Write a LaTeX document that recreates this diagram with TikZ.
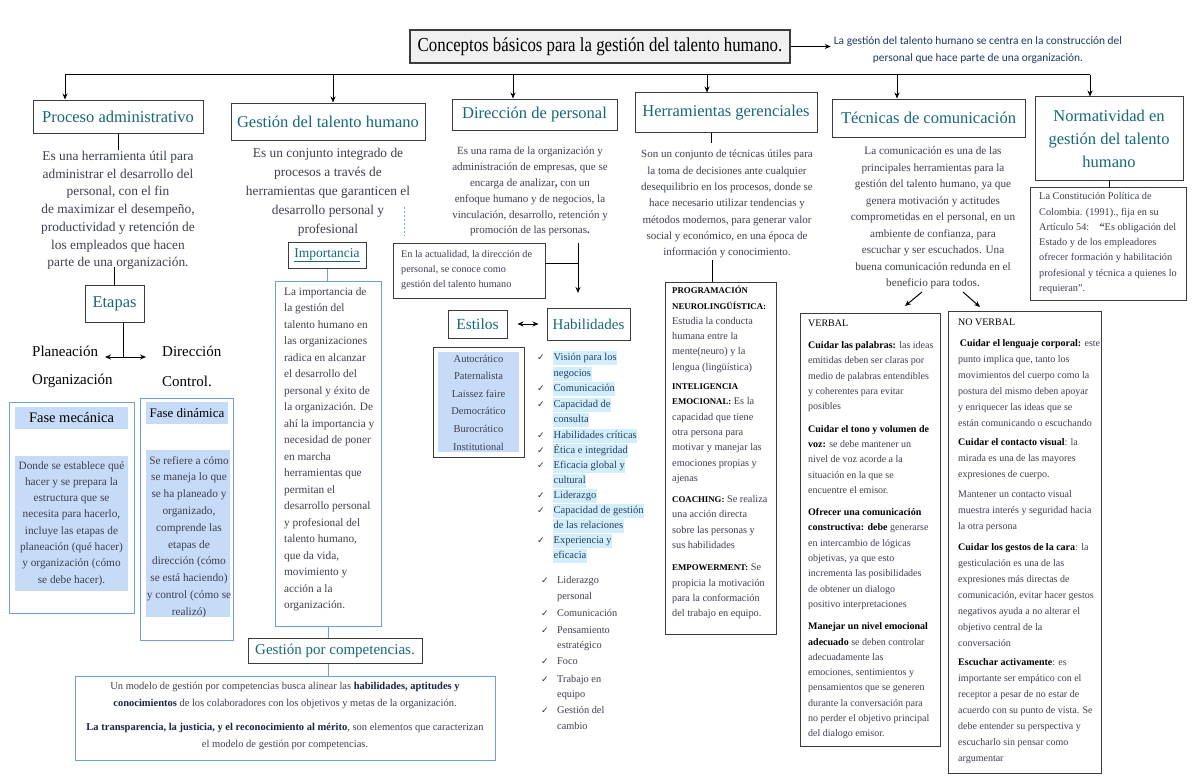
\documentclass[tikz,border=0pt]{standalone}
\usepackage{fontspec}
\setmainfont{Liberation Serif}
\newfontfamily\condfont[FakeStretch=0.85]{Liberation Serif}
\newfontfamily\calib{Carlito}
\newfontfamily\djv{DejaVu Sans}
\usetikzlibrary{arrows.meta}
\definecolor{tealh}{RGB}{22,104,120}
\definecolor{bodyg}{RGB}{62,64,78}
\definecolor{lbline}{RGB}{110,160,220}
\definecolor{lbfill}{RGB}{197,219,248}
\definecolor{hlfill}{RGB}{208,238,252}
\definecolor{navyt}{RGB}{30,55,100}
\definecolor{habt}{RGB}{45,60,100}
\definecolor{navyb}{RGB}{25,35,70}
\definecolor{boxline}{RGB}{60,60,60}
\newcommand\myfs[2]{\fontsize{#1}{#2}\selectfont}
\newcommand\smb[1]{{\fontsize{8.8}{15.3}\selectfont\bfseries\color{black}#1}}
\newcommand\bk[1]{\textbf{\color{black}#1}}
\tikzset{
  box/.style={draw=boxline, line width=1pt, inner sep=0pt},
  hdr/.style={box, text=tealh, font=\myfs{16.5}{20}},
  bbox/.style={draw=lbline, line width=1pt, inner sep=0pt},
  body/.style={inner sep=0pt, text=bodyg, align=center},
  lbody/.style={inner sep=0pt, text=bodyg, align=left, anchor=north west},
  ln/.style={line width=1pt, draw=black},
  bln/.style={line width=1pt, draw=lbline},
  arr/.style={line width=1pt, -{Stealth[length=6pt,width=5pt]}},
  darr/.style={line width=1pt, {Stealth[length=6pt,width=5pt]}-{Stealth[length=6pt,width=5pt]}},
  hl/.style={anchor=west, fill=hlfill, inner xsep=0.5pt, inner ysep=2pt, text height=7.5pt, text depth=2.5pt, font=\myfs{10.5}{12}, text=habt},
  ltwo/.style={anchor=west, inner sep=0pt, text height=7.5pt, text depth=2.5pt, font=\myfs{10.3}{12}, text=bodyg},
  chk/.style={inner sep=0pt, font=\djv\myfs{9}{10}, text=black!80},
}
\begin{document}
\begin{tikzpicture}[x=1pt,y=-1pt]
\fill[white] (0,0) rectangle (1200,776);
\useasboundingbox (0,0) rectangle (1200,776);

% title
\node[draw=boxline, line width=1.2pt, fill=black!6, minimum width=380pt, minimum height=33pt, inner sep=0pt, font=\condfont\myfs{19.8}{22}] (title) at (600,46.5) {Conceptos básicos para la gestión del talento humano.};
\node[font=\calib\myfs{11.4}{17}, text=navyt, align=center, inner sep=0pt] (trtxt) at (978,50.5) {La gestión del talento humano se centra en la construcción del\\personal que hace parte de una organización.};
\draw[arr] (title.east) -- ([xshift=-3pt]title.east -| trtxt.west);

% headers
\node[hdr, minimum width=170pt, minimum height=33pt] (proc) at (118,116.5) {Proceso administrativo};
\node[hdr, minimum width=194pt, minimum height=37pt] (gth) at (328,121.5) {Gestión del talento humano};
\node[hdr, minimum width=165pt, minimum height=31pt] (dir) at (534.5,114.5) {Dirección de personal};
\node[hdr, minimum width=182pt, minimum height=39pt] (herr) at (726,112.5) {Herramientas gerenciales};
\node[hdr, minimum width=193pt, minimum height=38pt] (tec) at (928.5,118) {Técnicas de comunicación};
\node[hdr, minimum width=148pt, minimum height=83pt, align=center, font=\myfs{16.5}{23}] (norm) at (1109,138.5) {Normatividad en\\gestión del talento\\humano};

% bar and drops
\coordinate (b1) at (65,75);
\coordinate (b2) at (333,75);
\coordinate (b3) at (513,75);
\coordinate (b4) at (707,75);
\coordinate (b5) at (897,75);
\coordinate (b6) at (1090,75);
\draw[ln] (b1) -- (b6);
\draw[arr] (b1) -- (b1 |- proc.north);
\draw[arr] (b2) -- (b2 |- gth.north);
\draw[arr] (b3) -- (b3 |- dir.north);
\draw[arr] (b4) -- (b4 |- herr.north);
\draw[arr] (b5) -- (b5 |- tec.north);
\draw[arr] (b6) -- (b6 |- norm.north);

% ---- column 1
\node[body, anchor=north, font=\myfs{13.4}{17.7}] (proctxt) at (118,151) {Es una herramienta útil para\\administrar el desarrollo del\\personal, con el fin\\de maximizar el desempeño,\\productividad y retención de\\los empleados que hacen\\parte de una organización.};
\draw[ln] (proc.south) -- ++(0,16);
\node[hdr, minimum width=59pt, minimum height=37pt] (etapas) at (114.5,303.5) {Etapas};
\draw[ln] (etapas.north) -- ++(0,-18);
\coordinate (ej) at (123,357);
\coordinate (dl) at (105,357);
\coordinate (dr) at (146,357);
\draw[ln] (ej |- etapas.south) -- (ej);
\draw[darr] (dl) -- (dr);
\node[anchor=west, inner sep=0pt, font=\myfs{15}{18}] (plan) at (32,351) {Planeación};
\node[anchor=west, inner sep=0pt, font=\myfs{15}{18}] (orga) at (32,381) {Organización};
\node[anchor=west, inner sep=0pt, font=\myfs{15}{18}] (dirc) at (162,351) {Dirección};
\node[anchor=west, inner sep=0pt, font=\myfs{15}{18}] (ctrl) at (162,381) {Control.};

\node[bbox, minimum width=125pt, minimum height=211pt] (fm) at (71.5,507.5) {};
\node[fill=lbfill, minimum width=113pt, minimum height=22pt, inner sep=0pt, font=\myfs{14.5}{17}] (fmh) at (71.5,417.5) {Fase mecánica};
\node[fill=lbfill, minimum width=113pt, minimum height=135pt, inner sep=0pt] (fmb) at (71.5,523.5) {};
\node[body, anchor=north, font=\myfs{11.3}{16.3}] (fmt) at (71.5,461) {Donde se establece qué\\hacer y se prepara la\\estructura que se\\necesita para hacerlo,\\incluye las etapas de\\planeación (qué hacer)\\y organización (cómo\\se debe hacer).};

\node[bbox, minimum width=93pt, minimum height=242pt] (fd) at (186.5,519) {};
\node[fill=lbfill, minimum width=82pt, minimum height=22pt, inner sep=0pt, font=\myfs{13}{16}] (fdh) at (187,413) {Fase dinámica};
\node[fill=lbfill, minimum width=84pt, minimum height=167pt, inner sep=0pt] (fdb) at (188,533.5) {};
\node[body, anchor=north, font=\myfs{11.3}{16.8}] (fdt) at (189,456) {Se refiere a cómo\\se maneja lo que\\se ha planeado y\\organizado,\\comprende las\\etapas de\\dirección (cómo\\se está haciendo)\\y control (cómo se\\realizó)};

% ---- column 2
\node[body, anchor=north, font=\myfs{13.4}{19}] (gthtxt) at (328,148) {Es un conjunto integrado de\\procesos a través de\\herramientas que garanticen el\\desarrollo personal y\\profesional};
\coordinate (ds1) at (404,207);
\coordinate (ds2) at (404,236);
\draw[lbline, line width=0.8pt, dash pattern=on 2pt off 2pt] (ds1) -- (ds2);
\node[box, minimum width=78pt, minimum height=26pt, text=tealh, font=\myfs{13.5}{16}] (imp) at (327,255) {\underline{Importancia}};
\node[bbox, minimum width=106pt, minimum height=345pt] (impbox) at (328,453.5) {};
\draw[bln] (imp.south) -- (imp.south |- impbox.north);
\node[lbody, font=\myfs{11.3}{16.5}] (imptxt) at (284,287) {La importancia de\\la gestión del\\talento humano en\\las organizaciones\\radica en alcanzar\\el desarrollo del\\personal y éxito de\\la organización. De\\ahí la importancia y\\necesidad de poner\\en marcha\\herramientas que\\permitan el\\desarrollo personal\\y profesional del\\talento humano,\\que da vida,\\movimiento y\\acción a la\\organización.};
\node[box, text=tealh, font=\myfs{15}{18}, minimum width=174pt, minimum height=25pt] (gpc) at (335,650.5) {Gestión por competencias.};
\draw[bln] (impbox.south) -- (impbox.south |- gpc.north);
\node[bbox, minimum width=420pt, minimum height=84pt] (bot) at (285,718) {};
\draw[bln] (impbox.south |- gpc.south) -- (impbox.south |- bot.north);
\node[body, anchor=north, font=\myfs{10.5}{17}] (bottxt) at (285,681.5) {Un modelo de gestión por competencias busca alinear las \textbf{\color{navyb}habilidades, aptitudes y}\\\textbf{\color{navyb}conocimientos} de los colaboradores con los objetivos y metas de la organización.\\[7pt]\textbf{\color{navyb}La transparencia, la justicia, y el reconocimiento al mérito}, son elementos que caracterizan\\el modelo de gestión por competencias.};

% ---- column 3
\node[body, anchor=north, font=\myfs{11}{15.8}] (dirtxt) at (530,147) {Es una rama de la organización y\\administración de empresas, que se\\encarga de analizar\textbf{,} con un\\enfoque humano y de negocios, la\\vinculación, desarrollo, retención y\\promoción de las personas\textbf{.}};
\node[box, minimum width=152pt, minimum height=55pt] (act) at (469,271) {};
\node[lbody, font=\myfs{10.2}{14.7}] (acttxt) at (401,250.5) {En la actualidad, la dirección de\\personal, se conoce como\\gestión del talento humano};
\coordinate (dv1) at (578,243);
\coordinate (dv2) at (578,293);
\coordinate (ah) at (545,263);
\draw[arr] (dv1) -- (dv2);
\draw[ln] (ah) -- (ah -| dv1);
\node[hdr, minimum width=59pt, minimum height=28pt, font=\myfs{15.5}{18}] (est) at (477.5,324) {Estilos};
\node[hdr, minimum width=83pt, minimum height=32pt, font=\myfs{15}{18}] (hab) at (588.5,324) {Habilidades};
\draw[darr] ([xshift=10pt]est.east) -- ([xshift=-8pt]hab.west);
\node[box, minimum width=91pt, minimum height=110pt] (estl) at (478.5,402) {};
\node[fill=lbfill, minimum width=81pt, minimum height=100pt, inner sep=0pt] (estf) at (478.5,402) {};
\node[body, anchor=north, font=\myfs{10.5}{17.6}] (esttxt) at (478.5,354.5) {Autocrático\\Paternalista\\Laissez faire\\Democrático\\Burocrático\\Institutional};
\foreach \txt/\yy [count=\i] in {Visión para los/358,negocios/374,Comunicación/389,Capacidad de/405,consulta/420,Habilidades críticas/436,Ética e integridad/451,Eficacia global y/466,cultural/481,Liderazgo/496,Capacidad de gestión/511,de las relaciones/526,Experiencia y/541,eficacia/556}
  {\node[hl] (hb\i) at (553,\yy) {\txt};}
\foreach \yy [count=\i] in {358,389,405,436,451,466,496,511,541}
  {\node[chk] (hc\i) at (541,\yy) {✓};}
\foreach \txt/\yy [count=\i] in {Liderazgo/581,personal/597,Comunicación/614,Pensamiento/631,estratégico/646,Foco/662,Trabajo en/680,equipo/695,Gestión del/711,cambio/727}
  {\node[ltwo] (sl\i) at (557,\yy) {\txt};}
\foreach \yy [count=\i] in {581,614,631,662,680,711}
  {\node[chk] (sc\i) at (545,\yy) {✓};}

% ---- column 4
\node[body, anchor=north, font=\myfs{11}{16.3}] (herrtxt) at (727,150) {Son un conjunto de técnicas útiles para\\la toma de decisiones ante cualquier\\desequilibrio en los procesos, donde se\\hace necesario utilizar tendencias y\\métodos modernos, para generar valor\\social y económico, en una época de\\información y conocimiento.};
\coordinate (hl1) at (711,143);
\draw[ln] (hl1 |- herr.south) -- (hl1);
\node[box, minimum width=111pt, minimum height=352pt] (herrbox) at (720.5,458) {};
\coordinate (hl2) at (712,260);
\draw[ln] (hl2) -- (hl2 |- herrbox.north);
\node[lbody, font=\myfs{10.3}{15.3}] (herrbt) at (672,286) {\smb{PROGRAMACIÓN}\\\smb{NEUROLINGÜÍSTICA:}\\Estudia la conducta\\humana entre la\\mente(neuro) y la\\lengua (lingüística)\\[4pt]\smb{INTELIGENCIA}\\\smb{EMOCIONAL:} Es la\\capacidad que tiene\\otra persona para\\motivar y manejar las\\emociones propias y\\ajenas\\[6pt]\smb{COACHING:} Se realiza\\una acción directa\\sobre las personas y\\sus habilidades\\[7pt]\smb{EMPOWERMENT:} Se\\propicia la motivación\\para la conformación\\del trabajo en equipo.};

% ---- column 5
\node[body, anchor=north, font=\myfs{11.2}{16.5}] (tectxt) at (933,147) {La comunicación es una de las\\principales herramientas para la\\gestión del talento humano, ya que\\genera motivación y actitudes\\comprometidas en el personal, en un\\ambiente de confianza, para\\escuchar y ser escuchados. Una\\buena comunicación redunda en el\\beneficio para todos.};
\coordinate (ta1) at (922,292);
\coordinate (ta2) at (905,306);
\coordinate (ta3) at (963,292);
\coordinate (ta4) at (980,307);
\draw[arr] (ta1) -- (ta2);
\draw[arr] (ta3) -- (ta4);
\node[box, minimum width=140pt, minimum height=433pt] (verb) at (870,529.5) {};
\node[lbody, font=\myfs{10}{15.3}] (verbt) at (808,319.5) {\color{black}VERBAL\\[7pt]\bk{Cuidar las palabras:} las ideas\\emitidas deben ser claras por\\medio de palabras entendibles\\y coherentes para evitar\\posibles\\[7pt]\bk{Cuidar el tono y volumen de}\\\bk{voz:} se debe mantener un\\nivel de voz acorde a la\\situación en la que se\\encuentre el emisor.\\[7pt]\bk{Ofrecer una comunicación}\\\bk{constructiva: debe} generarse\\en intercambio de lógicas\\objetivas, ya que esto\\incrementa las posibilidades\\de obtener un dialogo\\positivo interpretaciones\\[7pt]\bk{Manejar un nivel emocional}\\\bk{adecuado} se deben controlar\\adecuadamente las\\emociones, sentimientos y\\pensamientos que se generen\\durante la conversación para\\no perder el objetivo principal\\del dialogo emisor.};
\node[box, minimum width=153pt, minimum height=462pt] (nverb) at (1024.5,542) {};
\node[lbody, font=\myfs{10}{16}] (nverbt) at (958,318.5) {\color{black}NO VERBAL\\[5pt]\,\bk{Cuidar el lenguaje corporal:} este\\punto implica que, tanto los\\movimientos del cuerpo como la\\postura del mismo deben apoyar\\y enriquecer las ideas que se\\están comunicando o escuchando\\[3pt]\bk{Cuidar el contacto visual}: la\\mirada es una de las mayores\\expresiones de cuerpo.\\[4pt]Mantener un contacto visual\\muestra interés y seguridad hacia\\la otra persona\\[5pt]\bk{Cuidar los gestos de la cara}: la\\gesticulación es una de las\\expresiones más directas de\\comunicación, evitar hacer gestos\\negativos ayuda a no alterar el\\objetivo central de la\\conversación\\[3pt]\bk{Escuchar activamente}: es\\importante ser empático con el\\receptor a pesar de no estar de\\acuerdo con su punto de vista. Se\\debe entender su perspectiva y\\escucharlo sin pensar como\\argumentar};

% ---- column 6
\node[box, minimum width=156pt, minimum height=113pt] (normbox) at (1108,243.5) {};
\draw[ln] (norm.south) -- (norm.south |- normbox.north);
\node[lbody, font=\myfs{10.3}{15.3}] (normt) at (1039,192.4) {La Constitución Política de\\Colombia. (1991)., fija en su\\Artículo 54:\quad \textbf{“}Es obligación del\\Estado y de los empleadores\\ofrecer formación y habilitación\\profesional y técnica a quienes lo\\requieran”.};
\end{tikzpicture}
\end{document}
